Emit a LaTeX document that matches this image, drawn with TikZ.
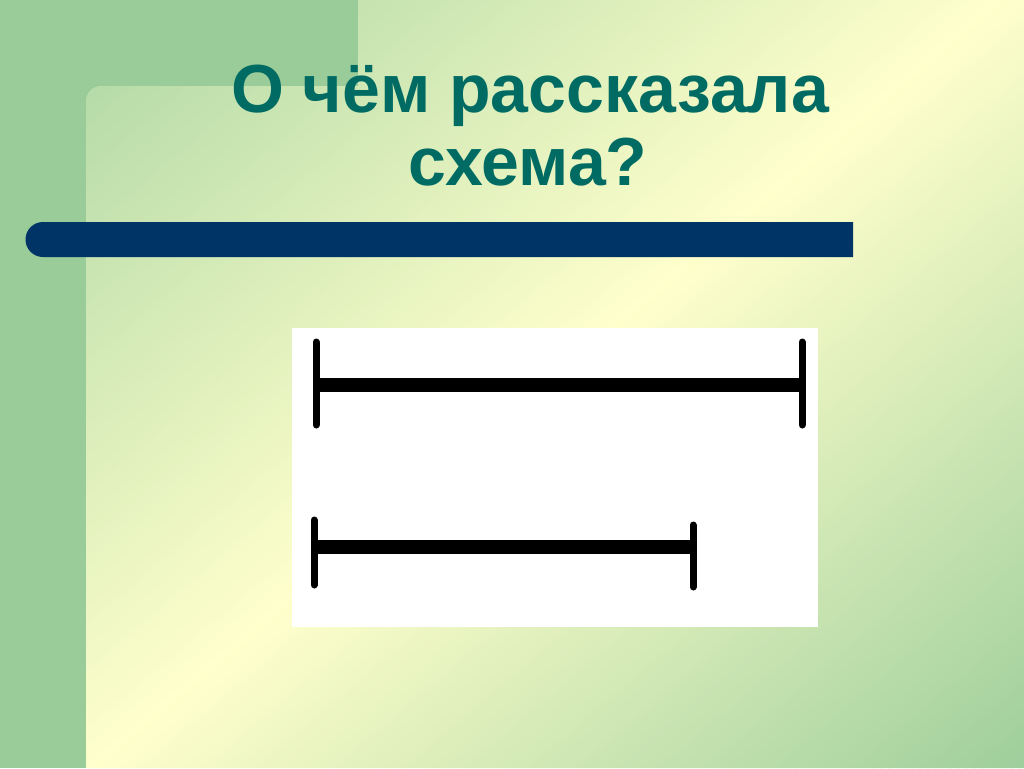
\documentclass[tikz,border=0pt]{standalone}
\usepackage{fontspec}
\setmainfont{Liberation Sans}
\definecolor{bgGreen}{HTML}{99CC99}
\definecolor{gA}{HTML}{A5D3A0}
\definecolor{gY}{HTML}{FFFFCC}
\definecolor{gB}{HTML}{97CB98}
\definecolor{titleTeal}{HTML}{006B63}
\definecolor{barBlue}{HTML}{003366}
\tikzset{
  titletext/.style={anchor=base, text=titleTeal, font=\fontsize{68}{80}\selectfont\bfseries, inner sep=0pt},
  segline/.style={line width=14pt, black},
  segtick/.style={line width=7pt, black, line cap=round},
}
\begin{document}
\begin{tikzpicture}[x=1pt,y=-1pt]
\useasboundingbox (0,0) rectangle (1024,768);
% background
\fill[bgGreen] (0,0) rectangle (1024,768);
% gradient panel
\begin{scope}
  \clip (86,768) -- (86,101) .. controls (86,92.7) and (92.7,86) .. (101,86)
        -- (358,86) -- (358,0) -- (1024,0) -- (1024,768) -- cycle;
  \foreach \s in {0,5,...,1295} {
    \pgfmathsetmacro{\p}{min(\s,645)/645*100}
    \pgfmathsetmacro{\q}{max(\s-645,0)/645*100}
    \colorlet{cc}{gY!\p!gA}
    \colorlet{cc}{gB!\q!cc}
    \fill[cc, rotate=-49.8] (\s,-2000) -- (\s+6,-2000) -- (\s+6,2000) -- (\s,2000) -- cycle;
  }
\end{scope}
% title
\node[titletext] (t1) at (530,112) {О чём рассказала};
\node[titletext] (t2) at (528,185) {схема?};
% blue bar
\fill[barBlue] (43,222) -- (853,222) -- (853,257) -- (43,257)
   .. controls (33.3,257) and (25.5,249.2) .. (25.5,239.5)
   .. controls (25.5,229.8) and (33.3,222) .. (43,222) -- cycle;
% white picture box
\fill[white] (292,328) rectangle (818,627);
% segment 1
\coordinate (a1) at (316,385);
\coordinate (a2) at (801,385);
\coordinate (a1t) at (316,342);
\coordinate (a1b) at (316,425);
\coordinate (a2t) at (802,342);
\coordinate (a2b) at (802,425);
\draw[segline] (a1) -- (a2);
\draw[segtick] (a1t) -- (a1b);
\draw[segtick] (a2t) -- (a2b);
% segment 2
\coordinate (b1) at (314,547);
\coordinate (b2) at (693,547);
\coordinate (b1t) at (314,520);
\coordinate (b1b) at (314,585);
\coordinate (b2t) at (693,525);
\coordinate (b2b) at (693,587);
\draw[segline] (b1) -- (b2);
\draw[segtick] (b1t) -- (b1b);
\draw[segtick] (b2t) -- (b2b);
\end{tikzpicture}
\end{document}
